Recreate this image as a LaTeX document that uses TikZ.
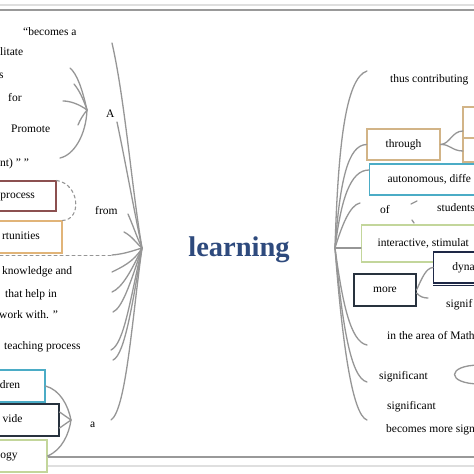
\documentclass[tikz,border=0pt]{standalone}
\usepackage{fontspec}
\setmainfont{Liberation Serif}
\definecolor{linkgray}{RGB}{150,150,150}
\definecolor{learnblue}{RGB}{46,74,125}
\definecolor{cbrown}{RGB}{140,80,80}
\definecolor{ctan}{RGB}{225,180,120}
\definecolor{ctan2}{RGB}{210,180,135}
\definecolor{ccyan}{RGB}{75,172,198}
\definecolor{cdark}{RGB}{40,50,62}
\definecolor{cnavy}{RGB}{30,40,70}
\definecolor{cgreen}{RGB}{195,214,155}
\newcommand\diagfs{\fontsize{11.5}{13}\selectfont}
\begin{document}
\begin{tikzpicture}[x=1pt,y=-1pt,
  txt/.style={anchor=west,inner sep=0pt,font=\diagfs,text height=8pt,text depth=2.5pt},
  box/.style={draw,line width=1.1pt,inner sep=0pt,font=\diagfs,fill=white,text height=8pt,text depth=2.5pt},
  link/.style={draw=linkgray,line width=1.3pt,line cap=round},
  rule/.style={line width=1.2pt}]
\useasboundingbox (0,0) rectangle (474,474);
\fill[white] (0,0) rectangle (474,474);
% frame rules
\draw[rule,draw=gray!25] (0,5) -- (474,5);
\draw[rule,draw=gray!80] (0,10) -- (474,10);
\draw[rule,draw=gray!80] (0,457) -- (474,457);
\draw[rule,draw=gray!25] (0,466) -- (474,466);

% central word
\node[font=\fontsize{28.5}{30}\selectfont\bfseries,text=learnblue,anchor=base,inner sep=0pt] (learn) at (239,256) {learning};

% ---------- left side texts
\node[txt] (t1) at (23,33) {“becomes a};
\node[txt] (t2) at (0,53) {litate};
\node[txt] (t3) at (-1,76) {s};
\node[txt] (t4) at (8,99) {for};
\node[txt] (t5) at (11,130) {Promote};
\node[txt] (t6) at (0,164) {nt) " "};
\node[txt] (t7) at (2,272) {knowledge and};
\node[txt] (t8) at (5,295) {that help in};
\node[txt] (t9) at (-1,316) {work with. "};
\node[txt] (t10) at (4,347) {teaching process};
\node[txt] (tA) at (106,115) {A};
\node[txt] (tfrom) at (95,212) {from};
\node[txt] (ta) at (90,425) {a};

% left boxes
\node[box,draw=cbrown,minimum width=76.6pt,minimum height=30pt] (process) at (17.7,196) {process};
\node[box,draw=ctan,minimum width=82pt,minimum height=32pt] (rtun) at (21,237) {rtunities};
\node[box,draw=ccyan,minimum width=70pt,minimum height=32pt] (dren) at (10,386) {dren};
\node[box,draw=cdark,minimum width=93pt,minimum height=32pt] (vide) at (12.5,420) {vide};
\node[box,draw=cgreen,minimum width=76pt,minimum height=32pt] (ogy) at (9,456) {ogy};

% left connectors
\coordinate (cA) at (87,110);
\coordinate (a1) at (70,68);
\coordinate (a2) at (74,84);
\coordinate (a3) at (63,101);
\coordinate (a4) at (78,125);
\coordinate (a5) at (60,158);
\draw[link] (cA) .. controls (82,88) and (77,74) .. (a1);
\draw[link] (cA) .. controls (83,98) and (79,90) .. (a2);
\draw[link] (cA) .. controls (79,104) and (70,101) .. (a3);
\draw[link] (cA) .. controls (83,115) and (80,120) .. (a4);
\draw[link] (cA) .. controls (86,135) and (74,155) .. (a5);

\coordinate (cL) at (142,248);
\coordinate (L0) at (112,43);
\coordinate (L1) at (117,122);
\coordinate (L2) at (128,214);
\coordinate (L3) at (124,232);
\draw[link] (L0) .. controls (125,100) and (132,190) .. (cL);
\draw[link] (L1) .. controls (125,160) and (134,210) .. (cL);
\draw[link] (L2) .. controls (134,228) and (138,240) .. (cL);
\draw[link] (L3) .. controls (132,236) and (137,244) .. (cL);

\coordinate (l1) at (112,272);
\coordinate (l2) at (112,292);
\coordinate (l3) at (113,312);
\coordinate (l4) at (111,350);
\coordinate (l5) at (113,360);
\coordinate (l6) at (111,420);
\draw[link] (cL) .. controls (134,262) and (120,268) .. (l1);
\draw[link] (cL) .. controls (132,270) and (122,288) .. (l2);
\draw[link] (cL) .. controls (130,285) and (122,308) .. (l3);
\draw[link] (cL) .. controls (130,300) and (124,344) .. (l4);
\draw[link] (cL) .. controls (133,300) and (125,355) .. (l5);
\draw[link] (cL) .. controls (132,320) and (126,410) .. (l6);

\coordinate (d0) at (0,255);
\coordinate (d1) at (112,255);
\draw[link,dashed,line width=1pt] (d0) -- (d1);
\draw[link] (d1) .. controls (125,254) and (135,250) .. (cL);

\draw[link,dashed,line width=1.1pt] (process.north east) .. controls (80,184) and (82,220) .. (rtun.north east);

\coordinate (ca) at (71,420);
\draw[link] (dren.east) .. controls (60,390) and (68,405) .. (ca);
\draw[link] ([yshift=-8pt]vide.east) -- (ca);
\draw[link] ([yshift=8pt]vide.east) -- (ca);
\draw[link] (ogy.east) .. controls (62,450) and (69,434) .. (ca);

% ---------- right side
\node[txt] (r1) at (390,80) {thus contributing};
\node[txt] (r2) at (380,211) {of};
\node[txt] (r3) at (437,209) {students};
\node[txt] (r4) at (446,305) {signif};
\node[txt] (r5) at (387,337) {in the area of Math};
\node[txt] (r6) at (379,377) {significant};
\node[txt] (r7) at (387,407) {significant};
\node[txt] (r8) at (386,430) {becomes more sign};

\node[box,draw=ctan2,minimum width=73pt,minimum height=31pt] (through) at (403.5,144.5) {through};
\node[box,draw=ctan2,minimum width=40pt,minimum height=31pt] (pb1) at (483,122.5) {};
\node[box,draw=ctan2,minimum width=40pt,minimum height=24pt] (pb2) at (483,150) {};
\node[box,draw=ccyan,anchor=west,inner xsep=18pt,minimum height=31pt] (auto) at (369,179.5) {autonomous, diffe};
\node[box,draw=cgreen,anchor=west,inner xsep=16pt,minimum height=37pt] (inter) at (361,243.5) {interactive, stimulat};
\node[box,draw=cnavy,anchor=west,inner xsep=18pt,minimum width=60pt,minimum height=31pt] (dyna) at (433,267.5) {dyna};
\draw[draw=cnavy,line width=1pt] ([yshift=-1.6pt]dyna.south west) -- ([yshift=-1.6pt]dyna.south east);
\node[box,draw=cdark,minimum width=62pt,minimum height=32pt] (more) at (385,290) {more};

\coordinate (cR) at (335,248);
\coordinate (R1) at (367,71);
\coordinate (R3) at (369,170);
\coordinate (R4) at (360,203);
\coordinate (R5) at (361,248);
\coordinate (R6) at (367,345);
\coordinate (R7) at (367,382);
\coordinate (R8) at (367,420);
\draw[link] (cR) .. controls (338,150) and (345,78) .. (R1);
\draw[link] (cR) .. controls (340,180) and (348,145) .. (through.west);
\draw[link] (cR) .. controls (341,200) and (350,170) .. (R3);
\draw[link] (cR) .. controls (342,225) and (350,205) .. (R4);
\draw[link] (cR) -- (R5);
\draw[link] (cR) .. controls (342,300) and (350,342) .. (R6);
\draw[link] (cR) .. controls (342,320) and (350,378) .. (R7);
\draw[link] (cR) .. controls (342,340) and (352,415) .. (R8);

\coordinate (f1) at (463,131);
\coordinate (f2) at (463,151);
\draw[link] (through.east) .. controls (450,144) and (452,131) .. (f1);
\draw[link] (through.east) .. controls (450,144) and (452,151) .. (f2);

\coordinate (m1) at (428,298);
\draw[link] (more.east) .. controls (422,278) and (426,268) .. (dyna.west);
\draw[link] ([yshift=-3pt]more.east) .. controls (420,297) and (424,298) .. (m1);

\coordinate (k1) at (411,204);
\coordinate (k2) at (417,201);
\coordinate (k3) at (412,220);
\coordinate (k4) at (414,223);
\draw[link] (k1) -- (k2);
\draw[link] (k3) -- (k4);

\coordinate (b1) at (480,365);
\coordinate (b2) at (480,384);
\draw[link] (b1) .. controls (446,365) and (446,384) .. (b2);
\end{tikzpicture}
\end{document}
